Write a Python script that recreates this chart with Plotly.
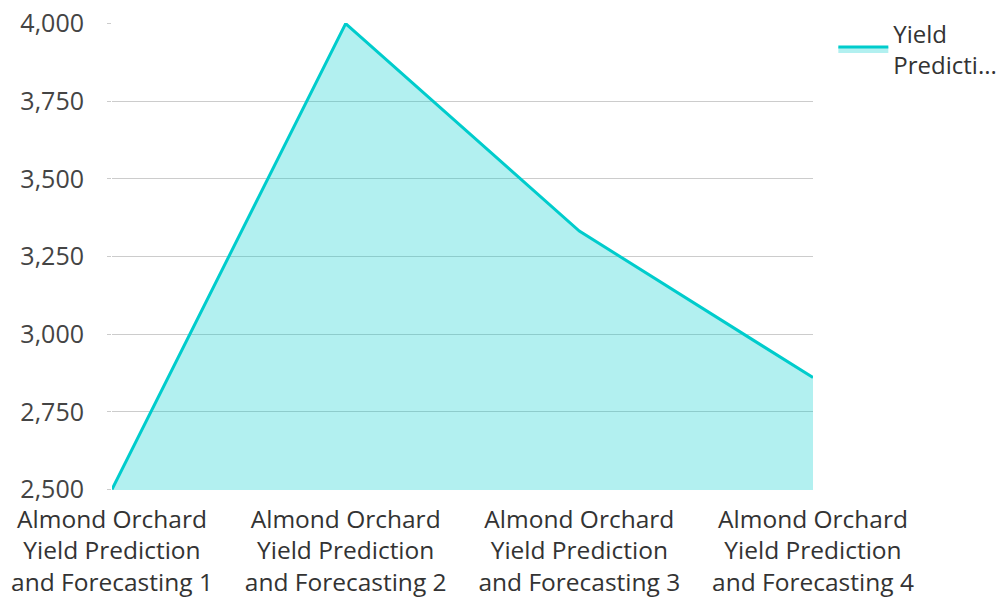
import plotly.graph_objects as go

categories = [
    "Almond Orchard<br>Yield Prediction<br>and Forecasting 1",
    "Almond Orchard<br>Yield Prediction<br>and Forecasting 2",
    "Almond Orchard<br>Yield Prediction<br>and Forecasting 3",
    "Almond Orchard<br>Yield Prediction<br>and Forecasting 4",
]
values = [2500, 4000, 3332, 2860]
tick_vals = [2500, 2750, 3000, 3250, 3500, 3750, 4000]
series_name = "Yield<br>Predicti..."

fig = go.Figure()
fig.add_trace(go.Scatter(
    x=categories, y=values, name=series_name, mode="lines",
    fill="tozeroy", fillcolor="rgba(0,204,204,0.30)",
    line=dict(color="#00cccc", width=3),
    showlegend=True, cliponaxis=False,
))

font = "Open Sans, Noto Sans, sans-serif"
fig.update_layout(
    width=1005, height=597,
    margin=dict(l=104, r=200, t=15, b=115, autoexpand=False),
    paper_bgcolor="white", plot_bgcolor="white",
    font=dict(family=font, size=24.5, color="#333333"),
    xaxis=dict(range=[0, 3], showgrid=False, showline=False, zeroline=False,
               automargin=False, ticks="", ticklabelstandoff=12,
               tickfont=dict(size=24.5, color="#333333")),
    yaxis=dict(range=[2498, 4002], tickvals=tick_vals, tickformat=",",
               showgrid=True, gridcolor="#cccccc", gridwidth=1,
               zeroline=False, showline=False, ticks="outside",
               automargin=False, ticklen=4, tickcolor="#cccccc",
               ticklabelstandoff=18, ticklabeloverflow="allow",
               tickfont=dict(size=25, color="#444444")),
    legend=dict(x=1.029, y=1.025, xanchor="left", yanchor="top",
                itemwidth=50, font=dict(size=24, color="#333333"),
                bgcolor="rgba(0,0,0,0)"),
)
fig.write_html("out.html")
